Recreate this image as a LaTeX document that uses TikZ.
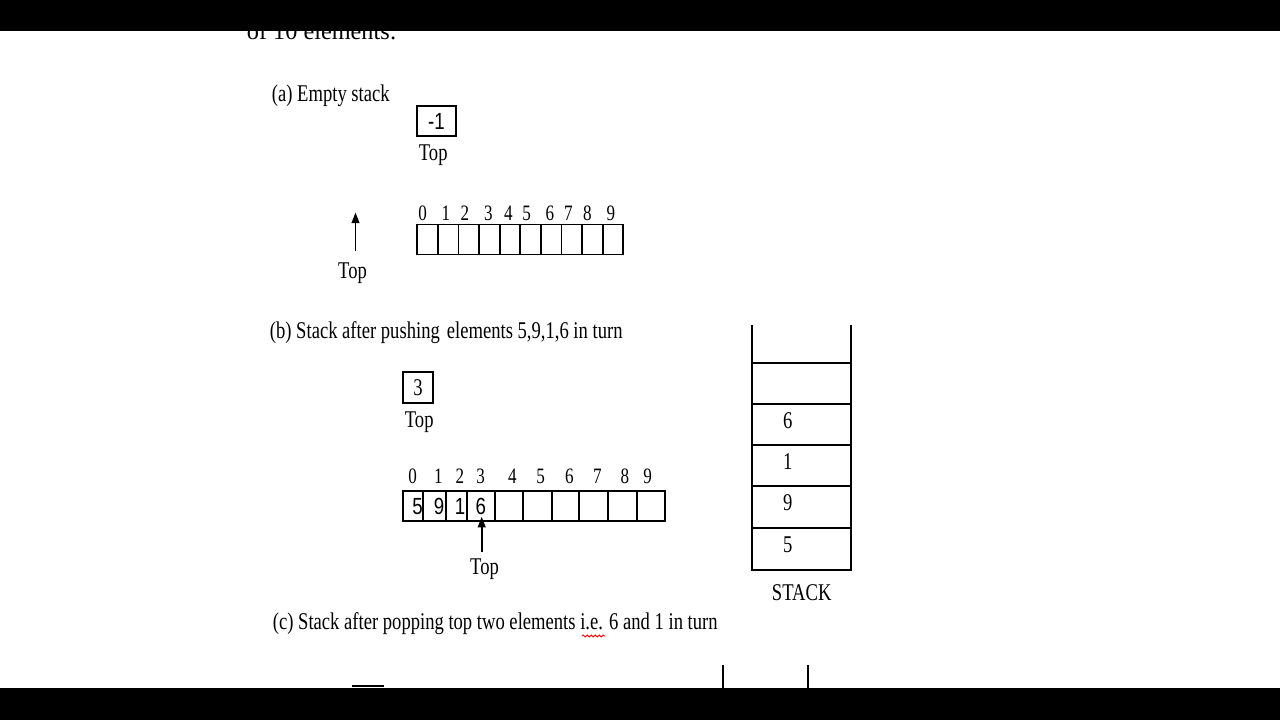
\documentclass[tikz,border=0pt]{standalone}
\usepackage{fontspec}
\setmainfont[FakeStretch=0.775]{Liberation Serif}
\newfontfamily\arialf[FakeStretch=0.8]{Liberation Sans}
\newfontfamily\wideserif{Liberation Serif}
\usetikzlibrary{arrows.meta,decorations.pathmorphing}
\begin{document}
\begin{tikzpicture}[x=0.75pt,y=-0.75pt, line width=1.35pt,
  lbl/.style={inner sep=0,font=\fontsize{18}{20}\selectfont},
  idx/.style={inner sep=0,font=\fontsize{16.5}{18}\selectfont},
  val/.style={inner sep=0,font=\arialf\fontsize{17.5}{19}\selectfont},
  ptr/.style={-{Triangle[length=8pt,width=5.8pt]}, line width=1.35pt}]
\useasboundingbox (0,0) rectangle (1280,720);
\fill[white] (0,0) rectangle (1280,720);

% partial intro line (cut by top bar)
\node[inner sep=0, anchor=base west, font=\wideserif\fontsize{18.2}{20}\selectfont] (intro) at (246,40) {of 10 elements:};

% headings
\node[lbl,anchor=base west] (ha) at (271,102) {(a) Empty stack};
\node[lbl,anchor=base west] (hb) at (269,338) {(b) Stack after pushing\hspace{0.1em} elements 5,9,1,6 in turn};
\node[lbl,anchor=base west] (hc) at (272,629) {(c) Stack after popping top two elements i.e. 6 and 1 in turn};
\draw[red, line width=0.6pt, decorate, decoration={snake, amplitude=0.8pt, segment length=3pt}] (582,636) -- (605,636);

% ---- (a) ----
\node[draw, val, minimum width=28.8pt, minimum height=22.8pt] (topa) at (436.5,121) {-1};
\node[lbl,anchor=base west] (topalbl) at (418,161) {Top};
\foreach \i in {0,...,9}
  \draw ({417.3+20.6*\i},224.5) rectangle ({417.3+20.6*(\i+1)},254.5);
\foreach \x [count=\n from 0] in {422.7,446,465,488.3,508.3,526.7,550,568.3,587.3,611}
  \node[idx,anchor=base] (ia\n) at (\x,220) {\n};
\coordinate (pa1) at (355.5,251);
\coordinate (pa2) at (355.5,212.5);
\draw[ptr] (pa1) -- (pa2);
\node[lbl,anchor=base] (pal) at (352.5,278) {Top};

% ---- (b) ----
\node[draw, lbl, minimum width=22pt, minimum height=22.8pt] (topb) at (418,387.5) {3};
\node[lbl,anchor=base west] (topblbl) at (404,427) {Top};
\foreach \l/\r in {403.3/423.3,423.3/445.7,445.7/466.7,466.7/495,495/523.3,523.3/551.7,551.7/579.3,579.3/607.7,607.7/636.7,636.7/665}
  \draw (\l,490.7) rectangle (\r,521.3);
\foreach \x [count=\n from 0] in {412.7,438.3,460,480.7,512.3,540.7,569.3,597.3,625,647.7}
  \node[idx,anchor=base] (ib\n) at (\x,483.5) {\n};
\foreach \x/\v [count=\n] in {417.5/5,439/9,460/1,480.7/6}
  \node[val,anchor=base] (vb\n) at (\x,514) {\v};
\coordinate (pb1) at (481.7,551.7);
\coordinate (pb2) at (481.7,516.7);
\draw[ptr] (pb1) -- (pb2);
\node[lbl,anchor=base] (pbl) at (484.5,574) {Top};

% stack drawing
\draw (751.7,325) -- (751.7,570.5);
\draw (850.7,325) -- (850.7,570.5);
\foreach \y in {362.7,404.3,445,486,528.3,570}
  \draw (751.7,\y) -- (850.7,\y);
\foreach \y/\v [count=\n] in {421/6,462/1,503/9,545/5}
  \node[lbl] (s\n) at (787.7,\y) {\v};
\node[lbl] (stk) at (801.7,592.5) {STACK};

% (c) beginnings, cut by the bottom bar
\draw (723.3,665) -- (723.3,690);
\draw (808.3,665) -- (808.3,690);
\draw (352,686) -- (384,686);

% black bars of the screenshot
\fill[black] (0,0) rectangle (1280,31);
\fill[black] (0,687.5) rectangle (1280,720);
\end{tikzpicture}
\end{document}
